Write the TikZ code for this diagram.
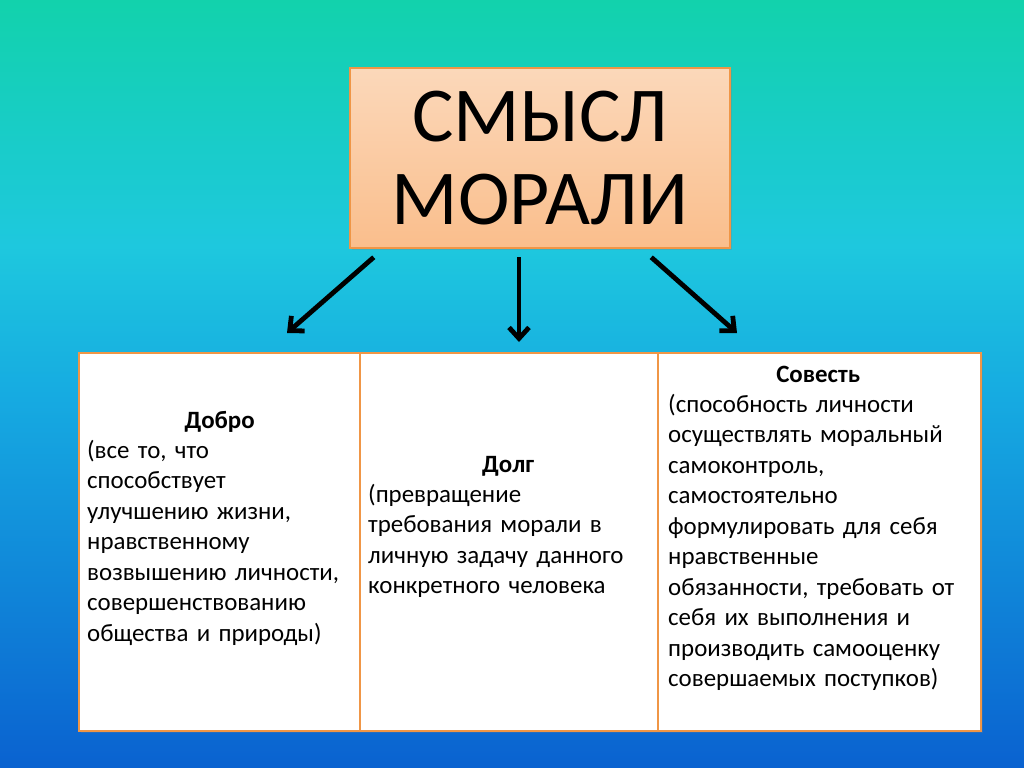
\documentclass[tikz,border=0pt]{standalone}
\usepackage{fontspec}
\setmainfont{Carlito}
\usetikzlibrary{arrows.meta,shadows}
\definecolor{bgtop}{RGB}{18,210,172}
\definecolor{bgcyan}{RGB}{30,200,222}
\definecolor{bgmid}{RGB}{22,170,225}
\definecolor{bgbot}{RGB}{10,98,208}
\definecolor{accent}{RGB}{240,150,70}
\definecolor{peachtop}{RGB}{251,216,186}
\definecolor{peachbot}{RGB}{250,190,140}
\pgfdeclareverticalshading{slidebg}{100bp}{color(0bp)=(bgbot); color(25bp)=(bgbot); color(49bp)=(bgmid); color(59bp)=(bgcyan); color(75bp)=(bgtop); color(100bp)=(bgtop)}
\begin{document}
\begin{tikzpicture}[x=1bp, y=-1bp]
    \tikzstyle{title}=[draw=accent, line width=2.5bp, top color=peachtop, bottom color=peachbot, minimum width=380bp, minimum height=180bp, align=center, font=\fontsize{78}{83}\selectfont, drop shadow={opacity=0.3, shadow xshift=2bp, shadow yshift=-2bp}]
    \tikzstyle{card}=[draw=accent, line width=1.8bp, fill=white, minimum height=378bp, anchor=north west, inner sep=0pt, drop shadow={opacity=0.25, shadow xshift=2bp, shadow yshift=-2bp}]
    \tikzstyle{cardtext}=[anchor=base west, inner sep=0pt, align=left, font=\fontsize{25}{30.6}\selectfont]
    \tikzstyle{link}=[line width=4.8bp, -{Straight Barb[length=11bp, width=20bp]}]
    \shade [shading=slidebg] (0, 0) rectangle (1024, 768);
    \node [title] (title) at (540, 158) {СМЫСЛ\\МОРАЛИ};
    \node [card, minimum width=281bp] (dobro) at (78, 352) {};
    \node [card, minimum width=298bp] (dolg) at (359, 352) {};
    \node [card, minimum width=323bp] (sovest) at (657, 352) {};
    \node [cardtext, text width=265bp] (dobrotext) at (87, 428) {\makebox[\linewidth]{\bfseries Добро}\\(все то, что\\способствует\\улучшению жизни,\\нравственному\\возвышению личности,\\совершенствованию\\общества и природы)};
    \node [cardtext, text width=280bp] (dolgtext) at (368, 472) {\makebox[\linewidth]{\bfseries Долг}\\(превращение\\требования морали в\\личную задачу данного\\конкретного человека};
    \node [cardtext, text width=300bp] (sovesttext) at (668, 382) {\makebox[\linewidth]{\bfseries Совесть}\\(способность личности\\осуществлять моральный\\самоконтроль,\\самостоятельно\\формулировать для себя\\нравственные\\обязанности, требовать от\\себя их выполнения и\\производить самооценку\\совершаемых поступков)};
    \draw [link] ([shift={(25, 8)}]title.south west) -- ([shift={(209, -19)}]dobro.north west);
    \draw [link] ([shift={(-21, 8)}]title.south) -- ([shift={(160, -10)}]dolg.north west);
    \draw [link] ([shift={(-80, 8)}]title.south east) -- ([shift={(80, -19)}]sovest.north west);
\end{tikzpicture}
\end{document}
